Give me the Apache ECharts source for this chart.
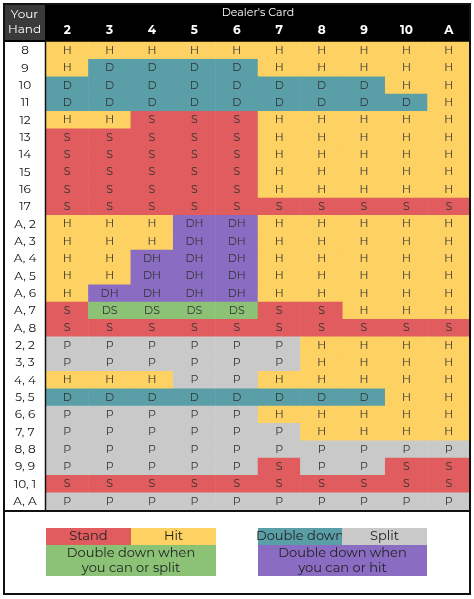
<!DOCTYPE html>
<html>
<head>
<meta charset="utf-8">
<script src="https://cdn.jsdelivr.net/npm/echarts@6/dist/echarts.min.js"></script>
<style>body{margin:0;background:#fff}</style>
</head>
<body>
<div id="main" style="width:474px;height:599px;"></div>
<script>
var dealer = ['2','3','4','5','6','7','8','9','10','A'];
var hands = ['8','9','10','11','12','13','14','15','16','17','A, 2','A, 3','A, 4','A, 5','A, 6','A, 7','A, 8',
             '2, 2','3, 3','4, 4','5, 5','6, 6','7, 7','8, 8','9, 9','10, 1','A, A'];
var moves = [
  'H H H H H H H H H H',
  'H D D D D H H H H H',
  'D D D D D D D D H H',
  'D D D D D D D D D H',
  'H H S S S H H H H H',
  'S S S S S H H H H H',
  'S S S S S H H H H H',
  'S S S S S H H H H H',
  'S S S S S H H H H H',
  'S S S S S S S S S S',
  'H H H DH DH H H H H H',
  'H H H DH DH H H H H H',
  'H H DH DH DH H H H H H',
  'H H DH DH DH H H H H H',
  'H DH DH DH DH H H H H H',
  'S DS DS DS DS S S H H H',
  'S S S S S S S S S S',
  'P P P P P P H H H H',
  'P P P P P P H H H H',
  'H H H P P H H H H H',
  'D D D D D D D D H H',
  'P P P P P H H H H H',
  'P P P P P P H H H H',
  'P P P P P P P P P P',
  'P P P P P S P P S S',
  'S S S S S S S S S S',
  'P P P P P P P P P P'
];
var colors = {S:'#e05c5e', H:'#fdd162', D:'#5a9ea8', P:'#c9c9c9', DS:'#8cc275', DH:'#8a6cc2'};

var data = [];
moves.forEach(function (row, r) {
  row.split(' ').forEach(function (m, c) {
    data.push({value:[c, r, 1], name:m, itemStyle:{color:colors[m]}});
  });
});

var chart = echarts.init(document.getElementById('main'));
var font = 'Montserrat, "Open Sans", sans-serif';
function legendBox(x, y, w, h, fill, text, lh) {
  return [
    {type:'rect', shape:{x:x, y:y, width:w, height:h}, style:{fill:fill}},
    {type:'text', x:x + w / 2, y:y + h / 2, style:{text:text, fill:'#222', font:'13px ' + font, align:'center', verticalAlign:'middle', lineHeight:lh || 15}}
  ];
}
var g = [
  {type:'rect', shape:{x:4, y:4, width:466, height:38}, style:{fill:'#000'}, z:-1},
  {type:'rect', shape:{x:4, y:4, width:41, height:36}, style:{fill:'#3a3a3a'}},
  {type:'text', x:24.5, y:22, style:{text:'Your\nHand', fill:'#fff', font:'12px ' + font, align:'center', verticalAlign:'middle', lineHeight:15}},
  {type:'text', x:258, y:13, style:{text:"Dealer's Card", fill:'#fff', font:'11px ' + font, align:'center', verticalAlign:'middle'}},
  {type:'rect', shape:{x:4, y:4, width:466, height:590}, style:{fill:'none', stroke:'#111', lineWidth:2}, z:10},
  {type:'line', shape:{x1:4, y1:511, x2:470, y2:511}, style:{stroke:'#111', lineWidth:2}, z:10},
  {type:'line', shape:{x1:45.5, y1:40, x2:45.5, y2:511}, style:{stroke:'#111', lineWidth:1.5}, z:10}
];
g = g.concat(legendBox(46, 528, 85, 17, colors.S, 'Stand'))
     .concat(legendBox(131, 528, 85, 17, colors.H, 'Hit'))
     .concat(legendBox(46, 545, 170, 31, colors.DS, 'Double down when\nyou can or split'))
     .concat(legendBox(258, 528, 84, 17, colors.D, 'Double down'))
     .concat(legendBox(342, 528, 85, 17, colors.P, 'Split'))
     .concat(legendBox(258, 545, 169, 31, colors.DH, 'Double down when\nyou can or hit'));

chart.setOption({
  animation:false,
  grid:{left:46, right:4, top:42, bottom:89},
  xAxis:{type:'category', data:dealer, position:'top', axisLine:{show:false}, axisTick:{show:false},
         axisLabel:{color:'#fff', fontSize:12, fontWeight:'bold', fontFamily:font, margin:6}},
  yAxis:{type:'category', data:hands, inverse:true, axisLine:{show:false}, axisTick:{show:false},
         axisLabel:{color:'#111', fontSize:12, fontFamily:font, margin:0, align:'center', padding:[0,0,0,-42]}},
  graphic:g,
  series:[{type:'heatmap', data:data,
    label:{show:true, formatter:function (p) { return p.name; }, color:'#333', fontSize:11, fontFamily:font}}]
});
</script>
</body>
</html>
